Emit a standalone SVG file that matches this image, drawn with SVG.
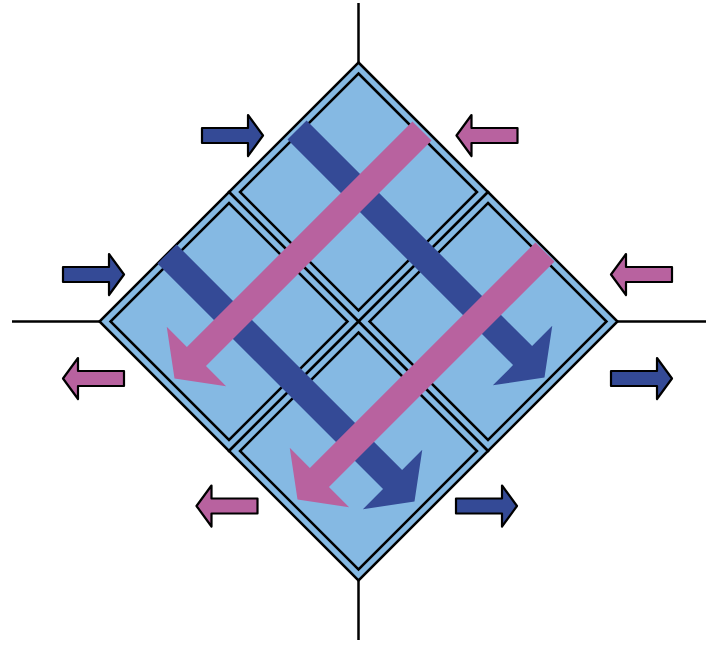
<svg xmlns="http://www.w3.org/2000/svg" xmlns:xlink="http://www.w3.org/1999/xlink" width="716" height="650" viewBox="0 0 716 650">
  <style>
    .axis { stroke: #000; stroke-width: 2.5; fill: none; }
    .cell { fill: #85b9e3; stroke: #000; stroke-width: 2.5; stroke-linejoin: miter; }
    .inner { fill: none; stroke: #000; stroke-width: 2.5; }
    .blue { fill: #344a96; }
    .pink { fill: #b8629f; }
    .small { stroke: #000; stroke-width: 2.2; stroke-linejoin: round; }
  </style>
  <defs>
    <g id="cellShape">
      <polygon class="cell" points="0,-129.5 129.5,0 0,129.5 -129.5,0"/>
      <polygon class="inner" points="0,-118.5 118.5,0 0,118.5 -118.5,0"/>
    </g>
    <path id="bigArrow" d="M0,-13.5 H319 V-42 L350,0 L319,42 V13.5 H0 Z"/>
    <path id="smallArrow" d="M0,-7.5 H46 V-20.5 L61,0 L46,20.5 V7.5 H0 Z"/>
  </defs>

  <g id="connectors">
    <line class="axis" x1="358.5" y1="3" x2="358.5" y2="62.5"/>
    <line class="axis" x1="358.5" y1="580.5" x2="358.5" y2="640"/>
    <line class="axis" x1="12" y1="321.5" x2="99.5" y2="321.5"/>
    <line class="axis" x1="617.5" y1="321.5" x2="706" y2="321.5"/>
  </g>

  <g id="cell-top"><use xlink:href="#cellShape" transform="translate(358.5,192)"/></g>
  <g id="cell-left"><use xlink:href="#cellShape" transform="translate(229,321.5)"/></g>
  <g id="cell-right"><use xlink:href="#cellShape" transform="translate(488,321.5)"/></g>
  <g id="cell-bottom"><use xlink:href="#cellShape" transform="translate(358.5,451)"/></g>

  <g id="flow-blue-1"><use xlink:href="#bigArrow" class="blue" transform="translate(297,130) rotate(45)"/></g>
  <g id="flow-blue-2"><use xlink:href="#bigArrow" class="blue" transform="translate(167,254) rotate(45)"/></g>
  <g id="flow-pink-1"><use xlink:href="#bigArrow" class="pink" transform="translate(422,131) rotate(135)"/></g>
  <g id="flow-pink-2"><use xlink:href="#bigArrow" class="pink" transform="translate(545,252) rotate(135)"/></g>

  <g id="in-blue-top"><use xlink:href="#smallArrow" class="blue small" transform="translate(202,135.5)"/></g>
  <g id="in-blue-left"><use xlink:href="#smallArrow" class="blue small" transform="translate(63,274.5)"/></g>
  <g id="out-blue-right"><use xlink:href="#smallArrow" class="blue small" transform="translate(611,378.5)"/></g>
  <g id="out-blue-bottom"><use xlink:href="#smallArrow" class="blue small" transform="translate(456,506)"/></g>
  <g id="in-pink-top"><use xlink:href="#smallArrow" class="pink small" transform="translate(517.5,135.5) scale(-1,1)"/></g>
  <g id="in-pink-right"><use xlink:href="#smallArrow" class="pink small" transform="translate(672,274.5) scale(-1,1)"/></g>
  <g id="out-pink-left"><use xlink:href="#smallArrow" class="pink small" transform="translate(124,378.5) scale(-1,1)"/></g>
  <g id="out-pink-bottom"><use xlink:href="#smallArrow" class="pink small" transform="translate(257.5,506) scale(-1,1)"/></g>
</svg>
